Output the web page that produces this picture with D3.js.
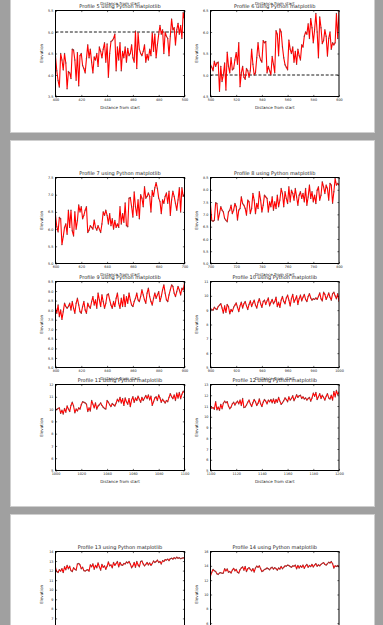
<!DOCTYPE html>
<html><head><meta charset="utf-8">
<script src="https://cdn.jsdelivr.net/npm/d3@7"></script>
<style>html,body{margin:0;padding:0;background:#a0a0a0;overflow:hidden}svg{display:block}</style>
</head><body>
<svg id="c" width="383" height="625"></svg>
<script>
// ---------- DATA ----------
const profileNumbers = [5, 6, 7, 8, 9, 10, 11, 12, 13, 14];
const xStarts = [400, 500, 600, 700, 800, 900, 1000, 1100, 1200, 1300];
const xTickSets = [
  [400,420,440,460,480,500],[500,520,540,560,580,600],[600,620,640,660,680,700],
  [700,720,740,760,780,800],[800,820,840,860,880,900],[900,920,940,960,980,1000],
  [1000,1020,1040,1060,1080,1100],[1100,1120,1140,1160,1180,1200],
  [1200,1220,1240,1260,1280,1300],[1300,1320,1340,1360,1380,1400]
];
const yLimits = [[3.5,5.5],[4.5,6.5],[5,7.5],[5,8.5],[5,9.5],[5,11],[5,12],[5,13],[5,14],[4,16]];
const yTickSets = [
  [3.5,4.0,4.5,5.0,5.5],[4.5,5.0,5.5,6.0,6.5],[5.0,5.5,6.0,6.5,7.0,7.5],
  [5.0,5.5,6.0,6.5,7.0,7.5,8.0,8.5],[5.0,5.5,6.0,6.5,7.0,7.5,8.0,8.5,9.0,9.5],
  [5,6,7,8,9,10,11],[5,6,7,8,9,10,11,12],[5,6,7,8,9,10,11,12,13],
  [5,6,7,8,9,10,11,12,13,14],[4,6,8,10,12,14,16]
];
const yTickDecimals = [1,1,1,1,1,0,0,0,0,0];
const thresholds = [5.0, 5.0, null, null, null, null, null, null, null, null];

const elev5 = [4.43,4.10,3.87,3.72,4.50,4.35,4.12,4.50,4.28,3.68,
  4.08,4.05,3.92,4.60,4.58,4.35,3.88,4.52,3.75,4.45,
  4.50,4.22,4.15,4.05,4.38,4.70,4.40,4.60,4.30,4.05,
  4.42,4.35,4.50,4.20,4.65,4.55,4.40,4.60,4.75,4.30,
  4.72,3.95,4.50,4.78,4.80,4.85,4.95,4.10,4.65,4.35,
  4.75,4.10,4.55,4.40,4.65,4.30,4.62,4.45,4.50,4.70,
  4.40,4.30,5.02,4.15,4.98,4.60,4.50,4.45,4.55,4.70,
  4.30,4.48,4.35,4.60,4.45,4.98,4.55,4.95,4.40,4.70,
  4.95,5.15,4.95,5.05,4.50,5.00,4.90,4.85,4.45,4.90,
  5.30,5.05,5.10,4.70,5.05,5.20,4.95,5.15,4.85,5.45,5.30];
const elev6 = [5.24,5.18,5.10,5.32,5.20,5.28,5.30,4.62,5.20,4.85,
  5.00,5.28,4.65,5.53,5.20,5.05,5.40,5.12,5.15,5.35,
  5.52,5.25,5.75,4.73,5.05,5.20,4.95,4.90,5.15,5.10,
  4.95,5.10,5.60,5.25,5.00,5.05,5.40,5.75,5.45,5.35,
  5.30,5.80,5.75,5.78,5.05,5.20,5.10,5.00,5.43,5.25,
  5.05,6.03,5.95,5.45,6.07,6.00,5.65,5.40,5.24,5.18,
  5.12,5.81,5.60,5.50,5.65,5.30,5.55,5.25,5.60,5.45,
  5.35,5.70,5.65,5.90,6.00,5.95,6.19,5.85,6.31,6.10,
  5.75,6.05,6.43,6.00,5.40,6.35,6.10,5.73,5.80,6.05,
  5.90,5.44,5.85,6.00,5.60,5.75,5.70,5.75,6.43,5.85,6.48];
const elev7 = [6.40,6.07,5.92,6.34,6.30,5.55,5.78,6.05,6.15,5.85,
  6.55,6.05,6.55,5.95,5.80,6.50,6.00,6.25,6.70,6.50,
  6.65,6.30,6.40,6.55,6.65,5.90,5.97,6.10,6.05,6.00,
  6.26,6.05,5.97,6.10,6.00,5.90,6.15,6.50,6.40,6.55,
  6.40,6.15,6.45,6.10,6.30,6.00,6.25,6.05,6.15,6.05,
  6.65,6.15,6.45,6.20,6.76,6.10,6.07,6.90,6.92,6.65,
  6.35,7.08,6.65,6.40,6.85,6.30,7.00,6.90,6.65,7.23,
  6.90,6.95,7.05,6.95,6.50,7.12,6.95,7.20,7.35,7.18,
  6.90,6.80,6.45,6.85,6.75,6.95,7.05,6.75,7.10,6.40,
  6.85,7.10,6.95,6.75,6.55,6.85,7.20,6.50,7.20,6.95,7.00];
const elev8 = [7.40,6.75,6.72,6.76,7.47,7.44,6.77,7.03,7.31,7.17,
  7.10,6.83,6.76,6.70,7.10,7.17,7.37,7.03,7.17,7.44,
  7.31,6.77,7.17,7.24,7.71,7.44,7.37,7.24,6.97,7.58,
  7.51,7.03,7.24,7.85,7.58,7.03,7.44,7.24,7.92,7.58,
  7.10,7.37,7.78,7.71,7.65,7.10,7.51,7.31,7.71,7.17,
  7.51,7.24,7.78,7.31,7.58,8.05,7.85,7.31,7.92,7.65,
  7.44,8.12,7.51,7.98,7.85,7.58,8.05,7.71,7.37,7.78,
  7.92,7.65,7.85,7.51,8.05,7.37,7.71,8.19,7.65,7.92,
  7.51,7.78,7.44,7.98,8.12,7.58,7.78,8.32,8.12,7.85,
  8.19,8.05,7.58,8.26,8.19,7.45,7.92,8.46,8.19,8.26,8.19];
const elev9 = [8.10,7.84,8.27,7.66,8.01,7.52,7.92,8.36,8.19,8.10,
  8.19,8.36,8.01,8.45,8.10,7.84,8.36,8.62,8.27,7.92,
  7.84,8.19,8.45,8.01,7.84,8.36,8.19,8.10,8.45,8.71,
  8.27,8.54,8.10,8.89,8.54,8.19,8.80,8.45,8.10,8.36,
  8.80,8.85,8.54,8.27,8.10,8.45,8.19,8.62,8.89,8.36,
  8.10,8.62,8.19,8.80,8.19,8.71,8.36,8.89,8.54,8.27,
  8.19,8.45,8.62,8.89,8.54,8.45,8.71,9.06,8.80,8.54,
  8.36,8.89,9.15,8.71,8.45,8.27,8.62,8.89,8.62,8.80,
  8.97,8.45,8.71,9.06,9.32,8.89,8.54,8.45,8.80,9.06,
  9.32,9.24,8.89,8.71,8.97,9.24,9.06,8.80,9.15,9.06,9.41];
const elev10 = [9.10,9.05,9.00,9.20,9.10,9.05,9.25,9.35,9.45,9.15,
  8.80,9.30,8.85,9.40,9.25,8.75,9.05,8.90,9.20,9.35,
  9.50,9.20,8.90,9.30,9.55,9.15,9.45,9.60,9.30,9.05,
  9.40,9.65,9.25,9.50,9.70,9.35,9.15,9.55,9.80,9.45,
  9.20,9.60,9.70,9.40,9.65,9.85,9.30,9.55,9.75,9.45,
  9.60,9.90,9.25,9.55,9.20,9.70,9.95,9.60,9.45,9.85,
  10.05,9.70,9.30,9.80,10.10,9.55,9.75,10.00,9.40,9.80,
  10.05,9.65,9.90,10.10,9.75,9.60,9.95,10.15,9.85,9.70,
  9.80,9.75,9.85,9.75,9.95,10.20,9.80,9.65,10.25,10.10,
  9.75,9.95,10.20,9.90,9.70,10.15,10.25,10.00,9.80,10.15,9.60];
const elev11 = [10.00,9.95,10.05,10.10,9.65,9.90,9.60,10.05,9.75,10.25,
  10.00,9.80,10.30,10.55,10.25,9.70,10.00,9.85,10.10,10.00,
  10.35,10.60,10.55,10.50,10.40,9.80,10.10,9.85,10.70,10.40,
  10.10,10.50,10.00,10.25,10.35,10.50,10.30,10.15,10.05,10.00,
  10.70,10.55,10.35,10.20,10.45,10.35,10.25,10.50,10.80,10.60,
  10.95,10.50,10.85,10.30,10.90,10.60,10.40,10.85,10.20,10.75,
  11.00,10.55,10.90,10.70,11.05,10.80,10.55,10.95,10.70,10.90,
  11.10,10.85,11.15,10.75,11.05,10.30,10.60,10.90,11.00,10.70,
  11.15,10.90,10.55,10.80,10.65,10.50,10.70,10.60,10.95,11.25,
  11.00,10.85,11.15,10.70,11.30,10.90,11.35,10.85,11.20,11.45,11.35];
const elev12 = [11.00,10.80,10.85,10.70,11.40,10.65,10.90,10.60,11.15,10.75,
  11.25,11.45,11.30,11.40,11.00,10.75,10.90,11.20,11.35,11.10,
  11.30,11.45,11.20,11.55,11.05,11.70,10.85,10.90,11.10,11.35,
  11.55,11.20,10.95,11.30,11.60,11.40,11.05,11.25,11.65,11.20,
  10.95,11.35,11.60,11.45,11.20,11.55,11.40,11.60,11.30,11.65,
  11.25,11.60,11.35,11.80,11.45,11.15,11.30,11.50,11.75,11.60,
  11.40,11.85,11.55,11.70,11.95,11.50,11.75,12.05,11.80,11.95,
  12.00,11.70,11.85,11.65,11.75,11.55,11.70,11.80,11.45,11.75,
  12.20,11.90,12.25,11.60,11.85,12.15,11.70,12.00,11.80,11.55,
  11.90,12.15,11.75,11.65,12.00,11.55,12.35,11.85,12.45,12.05,12.30];
const elev13 = [12.30,11.90,11.80,12.10,11.95,12.20,11.80,12.40,12.10,12.55,
  12.20,12.45,12.00,11.90,12.30,12.15,12.05,12.70,12.75,12.60,
  12.20,12.35,12.00,11.95,12.05,12.10,11.95,12.60,12.40,12.70,
  12.15,12.55,12.30,12.80,12.40,12.05,12.65,12.35,12.50,12.15,
  12.45,12.90,12.50,12.60,12.30,12.85,12.55,12.75,12.95,12.40,
  12.85,12.60,12.55,12.75,12.70,12.90,12.80,12.95,12.70,12.30,
  12.50,12.85,12.35,12.95,12.60,12.40,12.95,13.00,12.70,12.50,
  12.65,12.85,12.60,12.80,12.55,12.75,13.00,12.85,12.95,13.10,
  12.85,12.95,12.70,13.05,12.95,13.15,13.10,13.20,13.05,13.25,
  13.30,13.20,13.35,13.25,13.40,13.30,13.35,13.25,13.30,13.35,13.30];
const elev14 = [12.60,13.10,13.50,13.30,13.20,12.90,12.80,13.00,13.05,12.95,
  13.00,13.60,13.30,13.55,13.10,13.20,13.00,13.40,13.65,13.30,
  13.50,13.10,13.00,13.45,13.70,13.85,13.40,13.90,13.20,13.60,
  13.75,13.50,13.30,13.60,13.15,13.70,13.95,13.80,14.00,13.60,
  13.20,13.30,13.50,13.55,13.70,13.60,13.45,13.70,13.80,13.55,
  13.75,13.60,13.40,13.70,13.55,13.90,13.60,13.80,14.00,13.95,
  14.10,14.05,13.90,13.80,14.00,13.95,14.10,13.60,14.05,13.70,
  14.00,13.80,14.10,13.65,14.00,14.20,13.80,14.05,13.90,14.20,
  13.85,14.10,14.30,13.95,14.15,14.00,14.20,14.35,14.45,14.20,
  14.10,14.30,14.50,14.40,14.60,14.30,13.70,14.00,13.90,14.05,13.85];
const elevations = [elev5, elev6, elev7, elev8, elev9, elev10, elev11, elev12, elev13, elev14];
const xLabelText = "Distance from start";
const yLabelText = "Elevation";

// ---------- LAYOUT ----------
const pageTops = [-234, 140, 514];
const pageH = 367, pageX = 10, pageW = 365;
const rowTops = [37.5, 141.5, 244.5];
const axH = 86;
const colLefts = [55.5, 210.5];
const colWidths = [129, 128.5];
const pageOf = [0,0,1,1,1,1,1,1,2,2];
const rowOf  = [2,2,0,0,1,1,2,2,0,0];
const colOf  = [0,1,0,1,0,1,0,1,0,1];
const FONT = "DejaVu Sans, Bitstream Vera Sans, sans-serif";
const tickLen = 1.6;

const svg = d3.select("#c");
svg.append("rect").attr("width",383).attr("height",625).attr("fill","#a0a0a0");
pageTops.forEach(t => {
  svg.append("rect").attr("x",pageX+0.5).attr("y",t+0.5).attr("width",pageW-1).attr("height",pageH-1)
    .attr("fill","#fff").attr("stroke","#cfcfcf").attr("stroke-width",1);
});
const defs = svg.append("defs");

// x-labels of the row above (profiles 3 & 4, plots off-page)
[0,1].forEach(c => {
  const top = pageTops[0] + rowTops[1];
  svg.append("text").attr("x", colLefts[c] + colWidths[c]/2).attr("y", top + axH + 11)
    .attr("text-anchor","middle").attr("font-family",FONT).attr("font-size",4.1).attr("fill","#222")
    .text(xLabelText);
});

function drawProfile(i) {
  const top = pageTops[pageOf[i]] + rowTops[rowOf[i]];
  const left = colLefts[colOf[i]], w = colWidths[colOf[i]], h = axH;
  const g = svg.append("g").attr("transform", `translate(${left},${top})`);
  const x = d3.scaleLinear().domain([xStarts[i], xStarts[i] + 100]).range([0, w]);
  const y = d3.scaleLinear().domain(yLimits[i]).range([h, 0]);
  const data = elevations[i].map((v, k) => [xStarts[i] + k, v]);

  const cid = "clip" + i;
  defs.append("clipPath").attr("id", cid).append("rect").attr("width", w).attr("height", h);
  const plot = g.append("g").attr("clip-path", `url(#${cid})`);

  if (thresholds[i] !== null) {
    plot.append("line").attr("x1",0).attr("x2",w).attr("y1",y(thresholds[i])).attr("y2",y(thresholds[i]))
      .attr("stroke","#000").attr("stroke-width",0.9).attr("stroke-dasharray","3,1.8");
  }
  plot.append("path").datum(data)
    .attr("d", d3.line().x(d => x(d[0])).y(d => y(d[1])))
    .attr("fill","none").attr("stroke","#ff0000").attr("stroke-width",1.1).attr("stroke-linejoin","round");
  plot.selectAll("circle").data(data).enter().append("circle")
    .attr("cx", d => x(d[0])).attr("cy", d => y(d[1])).attr("r", 0.7)
    .attr("fill","#555").attr("fill-opacity",0.75);

  const fmt = d3.format(yTickDecimals[i] ? ".1f" : "d");
  const styleAxis = (sel) => {
    sel.select(".domain").remove();
    sel.selectAll(".tick line").attr("stroke","#000").attr("stroke-width",0.6);
    sel.selectAll(".tick text").attr("font-family",FONT).attr("font-size",3.4).attr("fill","#222");
  };
  g.append("g").call(d3.axisLeft(y).tickValues(yTickSets[i]).tickFormat(fmt).tickSizeInner(-tickLen).tickSizeOuter(0).tickPadding(2)).call(styleAxis);
  g.append("g").attr("transform",`translate(${w},0)`).call(d3.axisRight(y).tickValues(yTickSets[i]).tickFormat("").tickSizeInner(-tickLen).tickSizeOuter(0)).call(styleAxis);
  g.append("g").attr("transform",`translate(0,${h})`).call(d3.axisBottom(x).tickValues(xTickSets[i]).tickFormat(d3.format("d")).tickSizeInner(-tickLen).tickSizeOuter(0).tickPadding(2.3)).call(styleAxis);
  g.append("g").call(d3.axisTop(x).tickValues(xTickSets[i]).tickFormat("").tickSizeInner(-tickLen).tickSizeOuter(0)).call(styleAxis);

  g.append("rect").attr("width", w).attr("height", h).attr("fill","none").attr("stroke","#000").attr("stroke-width",1);

  g.append("text").attr("x", w/2).attr("y", -2.7).attr("text-anchor","middle")
    .attr("font-family",FONT).attr("font-size",5).attr("fill","#222")
    .text(`Profile ${profileNumbers[i]} using Python matplotlib`);
  g.append("text").attr("x", w/2).attr("y", h + 12.5).attr("text-anchor","middle")
    .attr("font-family",FONT).attr("font-size",4.1).attr("fill","#222").text(xLabelText);
  g.append("text").attr("transform", `translate(${colOf[i] ? -13 : -12.3},${h/2}) rotate(-90)`).attr("text-anchor","middle")
    .attr("font-family",FONT).attr("font-size",4.1).attr("fill","#222").text(yLabelText);
}
profileNumbers.forEach((p, i) => drawProfile(i));
</script>
</body></html>
